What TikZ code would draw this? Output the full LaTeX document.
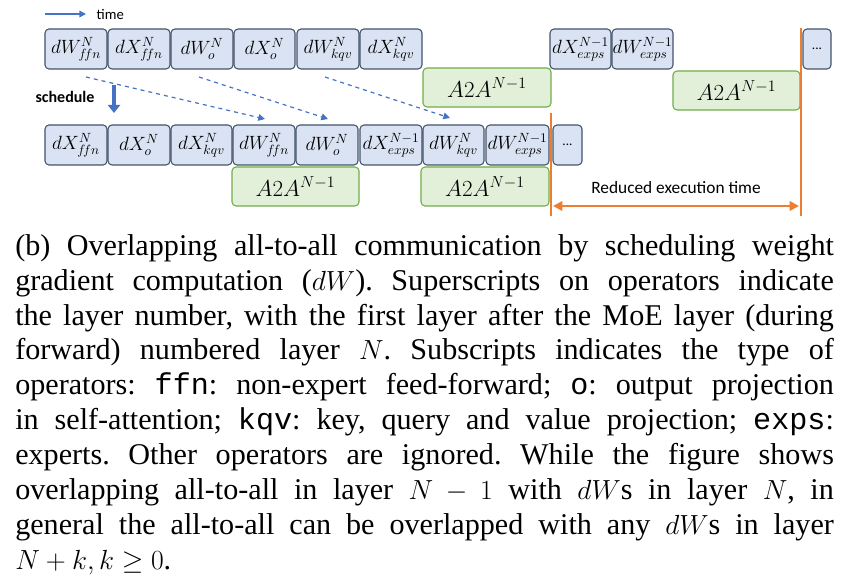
\documentclass[tikz,border=0pt]{standalone}
\usepackage{fontspec}
\setmainfont{Liberation Serif}
\setsansfont{Carlito}
\setmonofont{Liberation Mono}
\usetikzlibrary{arrows.meta}
\definecolor{bfill}{RGB}{218,227,243}
\definecolor{bdraw}{RGB}{68,84,106}
\definecolor{gfill}{RGB}{226,240,217}
\definecolor{gdraw}{RGB}{112,173,71}
\definecolor{myblue}{RGB}{68,114,196}
\definecolor{myorange}{RGB}{237,125,49}
\begin{document}
\begin{tikzpicture}[x=0.75pt,y=-0.75pt,
 op/.style={draw=bdraw,fill=bfill,rounded corners=3pt,line width=0.8pt,inner sep=0pt,font=\fontsize{14}{15}\selectfont},
 a2a/.style={draw=gdraw,fill=gfill,rounded corners=3pt,line width=0.8pt,inner sep=0pt,font=\fontsize{18}{20}\selectfont},
 dsh/.style={myblue,dashed,line width=0.9pt,-{Triangle[length=5pt,width=5pt]}},
 orl/.style={myorange,line width=2.2pt}]
\useasboundingbox (0,0) rectangle (847,588);
\newcommand{\bx}[6]{\node[#1,minimum width={(#4-#3)*0.75pt},minimum height={(#6-#5)*0.75pt}] (#2) at ({(#3+#4)/2},{(#5+#6)/2}) }
% top row
\bx{op}{t1}{45}{107}{29}{69}{$dW^N_{f\!fn}$};
\bx{op}{t2}{108}{170}{29}{69}{$dX^N_{f\!fn}$};
\bx{op}{t3}{171}{233}{29}{69}{$dW^N_{o}$};
\bx{op}{t4}{234}{295}{29}{69}{$dX^N_{o}$};
\bx{op}{t5}{297}{359}{29}{69}{$dW^N_{kqv}$};
\bx{op}{t6}{360}{422}{29}{69}{$dX^N_{kqv}$};
\bx{a2a}{ta1}{423}{551}{68}{107}{$A2A^{N-1}$};
\bx{op}{t7}{550}{611}{29}{69}{$dX^{N-1}_{exps}$};
\bx{op}{t8}{612}{673}{29}{69}{$dW^{N-1}_{exps}$};
\bx{a2a}{ta2}{673}{800}{71}{110}{$A2A^{N-1}$};
\bx{op}{t9}{803}{831}{29}{69}{\normalsize\sffamily ...};
% bottom row
\bx{op}{b1}{45}{107}{125}{165}{$dX^N_{f\!fn}$};
\bx{op}{b2}{108}{170}{125}{165}{$dX^N_{o}$};
\bx{op}{b3}{171}{232}{125}{165}{$dX^N_{kqv}$};
\bx{op}{b4}{233}{295}{125}{165}{$dW^N_{f\!fn}$};
\bx{op}{b5}{296}{358}{125}{165}{$dW^N_{o}$};
\bx{op}{b6}{360}{422}{125}{165}{$dX^{N-1}_{exps}$};
\bx{op}{b7}{423}{484}{125}{165}{$dW^N_{kqv}$};
\bx{op}{b8}{486}{549}{125}{165}{$dW^{N-1}_{exps}$};
\bx{op}{b9}{553}{582}{125}{165}{\normalsize\sffamily ...};
\bx{a2a}{ba1}{232}{359}{167}{206}{$A2A^{N-1}$};
\bx{a2a}{ba2}{421}{549}{167}{206}{$A2A^{N-1}$};
% time / schedule
\coordinate (ts) at (45,14); \coordinate (te) at (86,14);
\draw[myblue,line width=1pt,-{Triangle[length=5pt,width=5pt]}] (ts) -- (te);
\node[anchor=west,font=\sffamily\fontsize{11}{12}\selectfont] (time) at (92,14) {time};
\node[font=\sffamily\bfseries\fontsize{12}{13}\selectfont] (sch) at (65,97) {schedule};
\coordinate (ss) at (114,85); \coordinate (se) at (114,113);
\draw[myblue,line width=2.5pt,-{Triangle[length=6pt,width=9pt]}] (ss) -- (se);
% dashed
\coordinate (d1s) at (86,77); \coordinate (d1e) at (265,119);
\coordinate (d2s) at (199,77); \coordinate (d2e) at (328,119);
\coordinate (d3s) at (325,77); \coordinate (d3e) at (450,118);
\draw[dsh] (d1s) -- (d1e);
\draw[dsh] (d2s) -- (d2e);
\draw[dsh] (d3s) -- (d3e);
% orange
\coordinate (o1a) at (551,113); \coordinate (o1b) at (551,216);
\coordinate (o2a) at (801,28); \coordinate (o2b) at (801,216);
\draw[orl] (o1a) -- (o1b);
\draw[orl] (o2a) -- (o2b);
\coordinate (ra) at (553,206); \coordinate (rb) at (799,206);
\draw[myorange,line width=1.8pt,{Triangle[length=7pt,width=7pt]}-{Triangle[length=7pt,width=7pt]}] (ra) -- (rb);
\node[font=\sffamily\fontsize{13}{14}\selectfont] (red) at (676,188) {Reduced execution time};
% caption
\node[anchor=north west,inner sep=0pt,text width=614pt,align=justify,font=\fontsize{22.6}{26.2}\selectfont\frenchspacing] (cap) at (15,234) {%
(b) Overlapping all-to-all communication by scheduling weight\linebreak
gradient computation ($dW$). Superscripts on operators indicate\linebreak
the layer number, with the first layer after the MoE layer (during\linebreak
forward) numbered layer $N$. Subscripts indicates the type of\linebreak
operators: \texttt{ffn}: non-expert feed-forward; \texttt{o}: output projection\linebreak
in self-attention; \texttt{kqv}: key, query and value projection; \texttt{exps}:\linebreak
experts. Other operators are ignored. While the figure shows\linebreak
overlapping all-to-all in layer $N-1$ with $dW$s in layer $N$, in\linebreak
general the all-to-all can be overlapped with any $dW$s in layer\linebreak
$N+k, k\geq 0$.};
\end{tikzpicture}
\end{document}
